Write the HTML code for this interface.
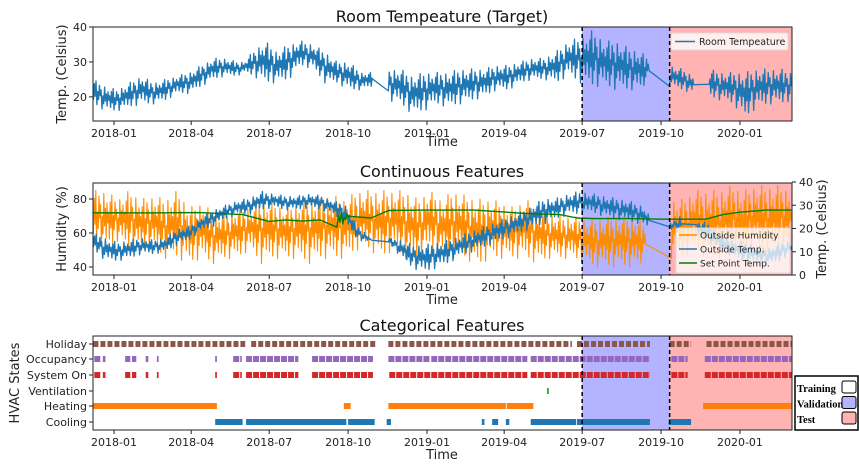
<!DOCTYPE html>
<html><head><meta charset="utf-8">
<style>
body{margin:0;background:#fff;}
svg{display:block;font-family:"DejaVu Sans","Liberation Sans",sans-serif;}
</style></head>
<body>
<svg id="c" width="859" height="472" viewBox="0 0 859 472" xmlns="http://www.w3.org/2000/svg"></svg>
<script>
// ---- data (day offsets from 2018-01-01) ----
const tickLabels = ["2018-01","2018-04","2018-07","2018-10","2019-01","2019-04","2019-07","2019-10","2020-01"];
const tickDays = [0,90,181,273,365,455,546,638,730];
const splitDays = [546,648];
// Room temperature: sample day, low, high
const roomDays = [-24,-10,4,18,32,46,60,74,88,102,116,130,144,152,162,176,190,204,218,232,246,260,274,288,302,320,334,348,362,376,390,404,418,432,446,460,474,488,502,516,530,544,558,572,586,600,614,624,648,662,676,694,708,722,736,750,764,778,790];
const roomLow  = [18,16,16,17,18,18,19,21,21,23,25,26,26,27,26,24,24,25,29,28,24,24,22,22,23,19,18,15,16,18,17,18,19,20,22,22,24,25,25,24,26,24,23,23,22,22,22,24,23,22,21,20,19,18,14,17,18,18,19];
const roomHigh = [25,23,22,24,26,24,25,26,27,29,31,31,30,30,33,36,33,35,36,35,33,30,30,27,27,28,28,26,27,27,27,28,28,28,29,29,30,31,31,33,36,37,39,36,36,34,33,31,29,28,26,28,27,27,27,28,28,28,27];
// Outside humidity (%)
const humDays = [-24,-10,4,18,32,46,60,74,88,102,116,130,144,158,172,186,200,214,228,242,256,270,284,298,312,326,340,354,368,382,396,410,424,438,452,466,480,494,508,522,536,550,564,578,592,606,620,650,664,678,692,706,720,734,748,762,776,790];
const humLow  = [55,50,55,50,50,50,45,45,42,45,42,45,45,50,42,45,45,45,42,45,45,45,50,50,45,50,45,45,50,45,45,45,40,45,45,45,45,42,45,45,45,42,40,40,40,40,42,45,45,50,45,45,50,45,50,45,50,50];
const humHigh = [85,85,80,85,80,82,80,85,75,78,72,72,75,75,80,78,75,78,80,80,82,80,85,85,85,85,85,80,85,80,85,82,80,80,78,75,80,75,72,70,70,68,68,70,70,70,65,80,80,85,85,85,88,85,88,88,88,85];
// Outside temperature (Celsius)
const otDays = [-24,-10,4,18,32,46,60,74,88,102,116,130,144,158,172,186,200,214,228,242,256,270,284,300,320,334,348,362,376,390,404,418,432,446,460,474,488,502,516,530,544,558,572,586,600,614,624,648,662,680,694,708,722,736,750,764,778,790];
const otLow  = [11,6,6,7,9,9,10,13,15,19,21,24,26,26,28,29,28,28,29,28,26,22,15,14,14,8,3,1,3,5,8,10,12,14,16,18,20,22,24,26,26,27,25,24,23,22,20,20,18,16,14,10,8,5,5,4,6,10];
const otHigh = [18,16,14,15,16,15,16,20,21,25,28,30,32,33,36,35,34,34,35,34,32,30,21,16,16,15,13,13,14,15,17,19,21,23,25,27,30,33,33,35,36,35,34,33,32,30,27,22,26,24,22,18,15,14,13,12,14,15];
// Set point temperature (Celsius)
const spDays = [-24,40,100,150,181,200,220,240,260,275,300,320,360,420,480,520,540,560,600,640,660,690,710,730,760,790];
const spLow  = [26.5,26.7,26.7,24,19.4,19.4,19.4,19.4,19.4,24.5,24.5,27.5,27.8,27.8,25,24,24,23.5,23.5,24,23,23.5,25,26,27.8,27.8];
const spHigh = [27,26.7,27,28,26.7,28,27,28,27,26,24.5,28,28,28,28,28,25,25,25,24,25,24.5,27,28,28,28];
// Categorical intervals [start, end]
const holiday = [[-24,153],[160,307],[320,534],[540,625],[648,673],[691,791]];
const occupancy = [[-23,-16],[-13,-10],[13,19],[21,26],[37,40],[50,52],[118,120],[139,149],[154,215],[231,302],[320,369],[370,482],[486,625],[650,669],[689,791]];
const systemOn = [[-23,-16],[-13,-10],[13,19],[21,26],[37,40],[50,52],[118,120],[139,149],[154,215],[231,302],[321,369],[370,482],[486,625],[650,669],[689,791]];
const ventilation = [[505,507]];
const heating = [[-25,120],[268,276],[320,457],[458,489],[687,791]];
const cooling = [[118,150],[154,271],[273,304],[318,323],[429,432],[441,448],[457,461],[486,539],[540,625],[647,673]];
const catLabels = ["Holiday","Occupancy","System On","Ventilation","Heating","Cooling"];

// ---- scales ----
const X0=93, X1=792, D0=-24.5, D1=790.7;
const xs = d => X0 + (d-D0)/(D1-D0)*(X1-X0);
const p1 = {top:27,bot:121,min:13.1,max:40};
const p2 = {top:183,bot:275};
const p3 = {top:336,bot:430};
const y1 = v => p1.bot - (v-p1.min)/(p1.max-p1.min)*(p1.bot-p1.top);
const yh = v => 267 - (v-40)*1.7;
const yt = v => 275 - v*2.325;
const catY = [344,359,375,391,406,422];

const svg = document.getElementById('c');
const NS = "http://www.w3.org/2000/svg";
function el(tag, attrs, parent){
  const e=document.createElementNS(NS,tag);
  for(const k in attrs) e.setAttribute(k,attrs[k]);
  (parent||svg).appendChild(e); return e;
}
function txt(s, attrs, parent){ const t=el('text',attrs,parent); t.textContent=s; return t; }

// rendering-only amplitude pattern for the noisy look (within data low/high)
const wig=[0.15,0.85,0.35,1.0,0.05,0.6,0.3,0.9,0.5,0.75,0.0,0.55,0.25,0.95,0.4,0.7,0.2,0.8,0.45,0.65];
function zig(days, lo, hi, ys, density){
  const pts=[]; let c=0;
  for(let i=0;i<days.length;i++){
    if(i===days.length-1){ pts.push([xs(days[i]),ys((lo[i]+hi[i])/2)]); break; }
    const gap = days[i+1]-days[i];
    if(gap>16){ pts.push([xs(days[i]),ys((lo[i]+hi[i])/2)]); continue; }
    const n = Math.max(2, Math.round(gap*density));
    for(let k=0;k<n;k++){
      const f=k/n, d=days[i]+gap*f;
      const l=lo[i]+(lo[i+1]-lo[i])*f, h=hi[i]+(hi[i+1]-hi[i])*f;
      const v = l+(h-l)*wig[(c++)%wig.length];
      pts.push([xs(d),ys(v)]);
    }
  }
  return pts.map((p,i)=>(i?'L':'M')+p[0].toFixed(1)+' '+p[1].toFixed(1)).join(' ');
}

function panelFrame(p, name){
  const g=el('g',{});
  
  
  const v=el('rect',{x:xs(splitDays[0]),y:p.top,width:xs(splitDays[1])-xs(splitDays[0]),height:p.bot-p.top,fill:'#b3b3ff'},g);
  
  
  const t=el('rect',{x:xs(splitDays[1]),y:p.top,width:X1-xs(splitDays[1]),height:p.bot-p.top,fill:'#ffb3b3'},g);
  
  
}
function panelAxes(p, name, xlabY){
  splitDays.forEach(d=>{
    const l=el('line',{x1:xs(d),x2:xs(d),y1:p.top,y2:p.bot,stroke:'#000','stroke-width':1.5,'stroke-dasharray':'4,3'});
    
    
  });
  const f=el('rect',{x:X0,y:p.top,width:X1-X0,height:p.bot-p.top,fill:'none',stroke:'#222','stroke-width':1});
  
  
  tickDays.forEach((d,i)=>{
    el('line',{x1:xs(d),x2:xs(d),y1:p.bot,y2:p.bot+4,stroke:'#222'});
    const t=txt(tickLabels[i],{x:xs(d),y:p.bot+16,'font-size':11,'text-anchor':'middle',fill:'#222'});
    
    
  });
  const xl=txt('Time',{x:442,y:xlabY,'font-size':13,'text-anchor':'middle',fill:'#222'});
  
  
}

// ===== Panel 1 =====
panelFrame(p1,'room-temp');
const rp=el('path',{d:zig(roomDays,roomLow,roomHigh,y1,1.0),fill:'none',stroke:'#1f77b4','stroke-width':1.3,'stroke-linejoin':'round'});


panelAxes(p1,'room-temp',146);
[20,30,40].forEach(v=>{
  el('line',{x1:X0-4,x2:X0,y1:y1(v),y2:y1(v),stroke:'#222'});
  const t=txt(String(v),{x:X0-6,y:y1(v)+4,'font-size':11,'text-anchor':'end',fill:'#222'});
  
  
});
let tt=txt('Room Tempeature (Target)',{x:442,y:22,'font-size':16,'text-anchor':'middle',fill:'#111'});
 
tt=txt('Temp. (Celsius)',{x:0,y:0,'font-size':13,'text-anchor':'middle',fill:'#222',transform:'translate(66,74) rotate(-90)'});
 
let lg=el('g',{});
 
el('rect',{x:671,y:33,width:117,height:17,rx:2,fill:'#fff','fill-opacity':0.8,stroke:'#ddd'},lg);
el('line',{x1:675,x2:695,y1:41.5,y2:41.5,stroke:'#1f77b4','stroke-width':1.5},lg);
txt('Room Tempeature',{x:699,y:45,'font-size':9.5,fill:'#222'},lg);

// ===== Panel 2 =====
panelFrame(p2,'continuous');
const hp=el('path',{d:zig(humDays,humLow,humHigh,yh,1.1),fill:'none',stroke:'#ff8c00','stroke-width':1.1,'stroke-linejoin':'round'});
 
const op=el('path',{d:zig(otDays,otLow,otHigh,yt,0.9),fill:'none',stroke:'#1f77b4','stroke-width':1.3,'stroke-linejoin':'round'});
 
const sp=el('path',{d:zig(spDays,spLow,spHigh,yt,0.6),fill:'none',stroke:'#008000','stroke-width':1.4,'stroke-linejoin':'round'});
 
panelAxes(p2,'continuous',304);
[40,60,80].forEach(v=>{
  el('line',{x1:X0-4,x2:X0,y1:yh(v),y2:yh(v),stroke:'#222'});
  const t=txt(String(v),{x:X0-6,y:yh(v)+4,'font-size':11,'text-anchor':'end',fill:'#222'});
   
});
[0,10,20,30,40].forEach(v=>{
  el('line',{x1:X1,x2:X1+4,y1:yt(v),y2:yt(v),stroke:'#222'});
  const t=txt(String(v),{x:X1+7,y:yt(v)+4,'font-size':11,'text-anchor':'start',fill:'#222'});
   
});
tt=txt('Continuous Features',{x:442,y:177,'font-size':16,'text-anchor':'middle',fill:'#111'});
 
tt=txt('Humidity (%)',{x:0,y:0,'font-size':13,'text-anchor':'middle',fill:'#222',transform:'translate(66,229) rotate(-90)'});
 
tt=txt('Temp. (Celsius)',{x:0,y:0,'font-size':13,'text-anchor':'middle',fill:'#222',transform:'translate(826,229) rotate(-90)'});
 
lg=el('g',{});
 
el('rect',{x:676,y:228,width:114,height:45,rx:2,fill:'#fff','fill-opacity':0.75,stroke:'#ddd'},lg);
[['Outside Humidity','#ff8c00'],['Outside Temp.','#1f77b4'],['Set Point Temp.','#008000']].forEach((e,i)=>{
  el('line',{x1:679,x2:697,y1:235+i*14,y2:235+i*14,stroke:e[1],'stroke-width':1.5},lg);
  txt(e[0],{x:700,y:238.5+i*14,'font-size':9,fill:'#222'},lg);
});

// ===== Panel 3 =====
panelFrame(p3,'categorical');
const catSeries=[holiday,occupancy,systemOn,ventilation,heating,cooling];
const catColors=['#8c564b','#9467bd','#d62728','#2ca02c','#ff7f0e','#1f77b4'];
const catDash=['5,2','6,1','6,1',null,null,null];
catSeries.forEach((ser,r)=>{
  ser.forEach(iv=>{
    const a={x1:xs(iv[0]),x2:xs(iv[1]),y1:catY[r],y2:catY[r],stroke:catColors[r],'stroke-width':6};
    if(catDash[r]) a['stroke-dasharray']=catDash[r];
    const l=el('line',a);
    
    
  });
});
panelAxes(p3,'categorical',459);
catLabels.forEach((s,r)=>{
  el('line',{x1:X0-4,x2:X0,y1:catY[r],y2:catY[r],stroke:'#222'});
  const t=txt(s,{x:X0-6,y:catY[r]+4,'font-size':11,'text-anchor':'end',fill:'#222'});
   
});
tt=txt('Categorical Features',{x:442,y:331,'font-size':16,'text-anchor':'middle',fill:'#111'});
 
tt=txt('HVAC States',{x:0,y:0,'font-size':13,'text-anchor':'middle',fill:'#222',transform:'translate(19,383) rotate(-90)'});
 
lg=el('g',{});
 
el('rect',{x:795,y:376,width:63,height:54,fill:'#fff',stroke:'#000','stroke-width':1.5},lg);
[['Training','#ffffff'],['Validation','#b3b3ff'],['Test','#ffb3b3']].forEach((e,i)=>{
  txt(e[0],{x:797,y:392+i*15.5,'font-size':10.5,'font-weight':'bold','font-family':'"Liberation Serif",serif',fill:'#000'},lg);
  el('rect',{x:842,y:381+i*15.5,width:14,height:12,rx:2,fill:e[1],stroke:'#000'},lg);
});
</script>
</body></html>
